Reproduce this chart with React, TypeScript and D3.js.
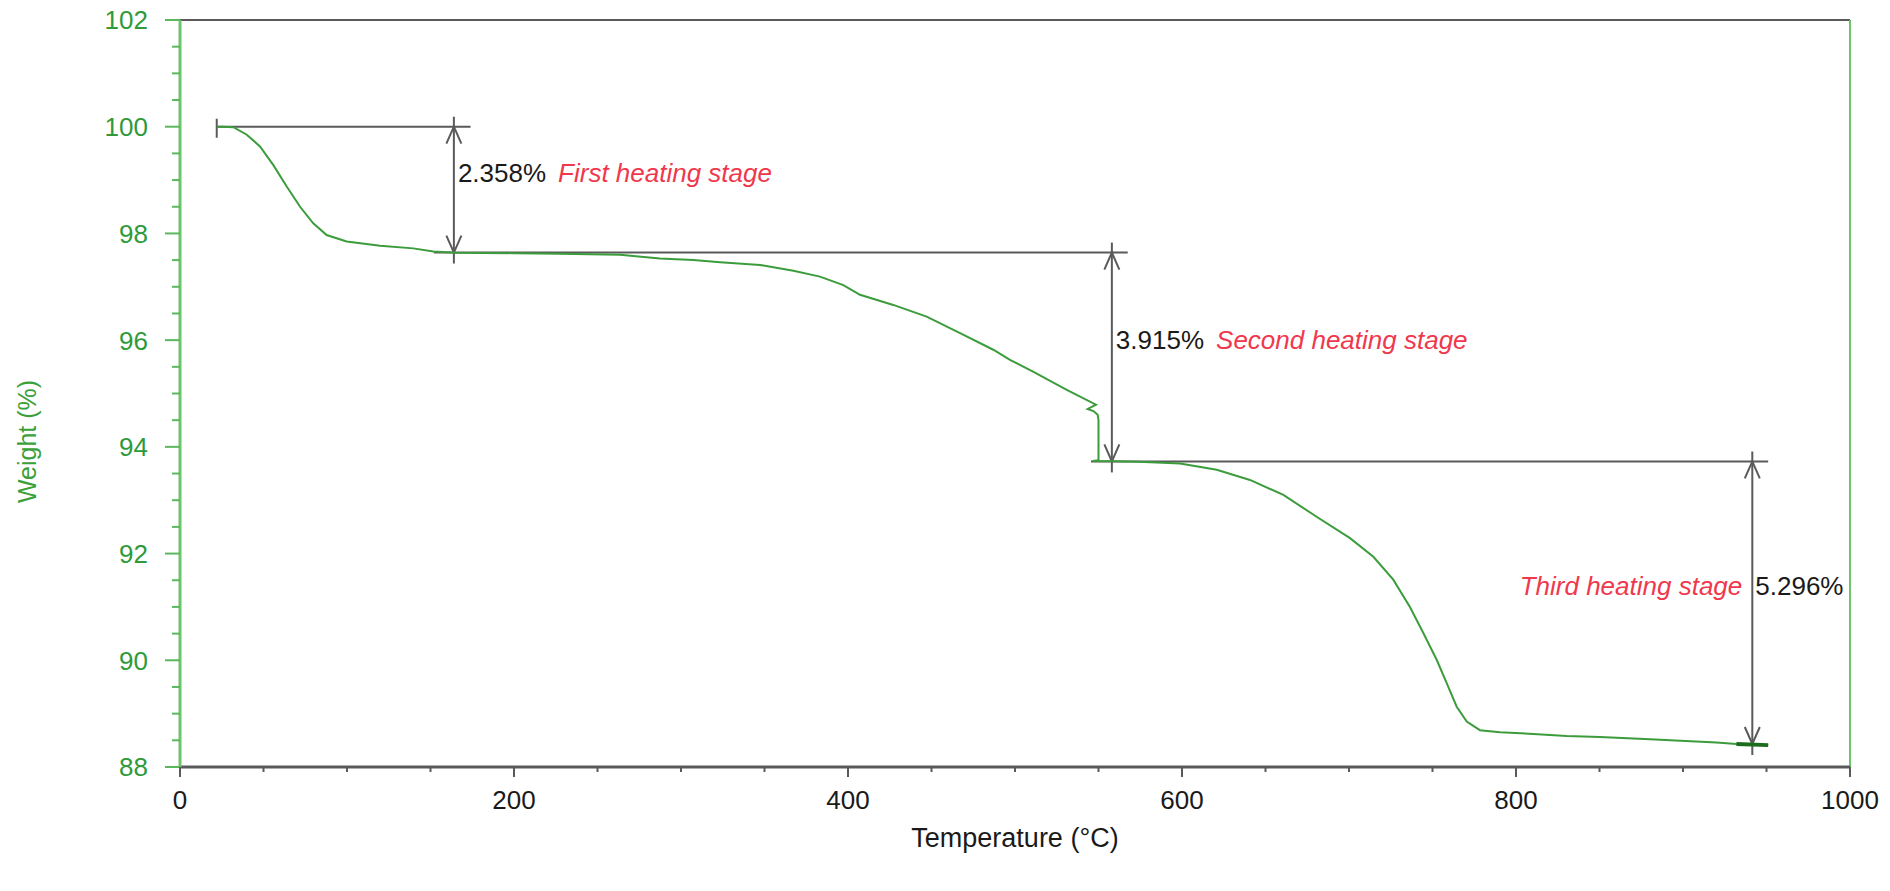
import React from 'react';
import * as d3 from 'd3';

// TGA curve
const temperature = [22, 25.7, 32, 40, 47.9, 55.9, 63.9, 71.9, 79.8, 87.8, 99.8, 119.8, 139.7, 151.7, 165, 200, 227.5, 263.5, 287.4, 307.4, 323.4, 347.3, 367.3, 383.2, 397.2, 407.2, 427.1, 447.1, 467.1, 487, 497, 510.8, 531, 548.5, 543.5, 547, 549.5, 550, 550, 546.5, 560, 573.9, 598.8, 620.8, 640.7, 660.7, 680.6, 700.6, 714.6, 726.5, 736.5, 744.5, 752.5, 758.5, 764.5, 770.5, 778.4, 790.4, 810.4, 830.3, 850.3, 880.2, 920, 932, 951];
const weight = [100.0, 100.0, 99.99, 99.85, 99.63, 99.28, 98.88, 98.5, 98.19, 97.97, 97.85, 97.77, 97.72, 97.66, 97.64, 97.63, 97.62, 97.6, 97.53, 97.5, 97.46, 97.41, 97.3, 97.19, 97.03, 96.85, 96.66, 96.44, 96.13, 95.82, 95.63, 95.41, 95.07, 94.79, 94.71, 94.67, 94.6, 94.5, 93.75, 93.735, 93.73, 93.72, 93.69, 93.57, 93.38, 93.1, 92.69, 92.29, 91.94, 91.51, 91.0, 90.51, 90.01, 89.57, 89.13, 88.85, 88.69, 88.65, 88.62, 88.58, 88.56, 88.52, 88.46, 88.43, 88.41];

// step annotations
const stageNames = ['First heating stage', 'Second heating stage', 'Third heating stage'];
const stageLoss = [2.358, 3.915, 5.296];
const stageTop = [100, 97.642, 93.727];
const arrowTemp = [164, 558, 941.5];
const lineStart = [22, 152, 545.5];
const lineEnd = [174, 567.5, 951];

const xTickLabels = [0, 200, 400, 600, 800, 1000];
const yTickLabels = [88, 90, 92, 94, 96, 98, 100, 102];

const W = 1890, H = 891;
const left = 180, right = 1850, top = 20, bottom = 767;
const font = '"Liberation Sans", Arial, sans-serif';
const gray = '#5a5a5a';
const red = '#f0384c';

const App = () => {
  const x = d3.scaleLinear().domain([0, 1000]).range([left, right]);
  const y = d3.scaleLinear().domain([88, 102]).range([bottom, top]);

  const pts = temperature.map((t, i) => [t, weight[i]]);
  const line = d3.line().x(d => x(d[0])).y(d => y(d[1]));

  const xMinor = d3.range(0, 1001, 50);
  const yMinor = d3.range(88, 102.01, 0.5);

  return <svg width={W} height={H} style={{position: 'absolute', left: 0, top: 0, background: '#fff'}} fontFamily={font}>
    {/* frame */}
    <line x1={left} x2={right} y1={top} y2={top} stroke={gray} strokeWidth={2} />
    <line x1={right} x2={right} y1={top} y2={bottom} stroke="#6cc46c" strokeWidth={2} />
    <line x1={left} x2={right} y1={bottom} y2={bottom} stroke={gray} strokeWidth={3} />
    <line x1={left} x2={left} y1={top} y2={bottom} stroke="#6cc46c" strokeWidth={3} />

    {/* y ticks */}
    {yMinor.map(v => {
      const major = Math.abs(v - Math.round(v)) < 1e-6 && Math.round(v) % 2 === 0;
      return <line key={'ym' + v} x1={left - (major ? 15 : 8)} x2={left} y1={y(v)} y2={y(v)} stroke="#5cb85c" strokeWidth={2} />;
    })}
    {yTickLabels.map(v => (
      <text key={'yl' + v} x={148} y={y(v)} dy="0.36em" textAnchor="end" fontSize={26} fill="#2f9a3a">{v}</text>
    ))}
    <text transform={`translate(36 ${(top + bottom) / 2 + 48}) rotate(-90)`} textAnchor="middle" fontSize={25} fill="#3aa03a">Weight (%)</text>

    {/* x ticks */}
    {xMinor.map(v => (
      <line key={'xm' + v} x1={x(v)} x2={x(v)} y1={bottom} y2={bottom + (v % 200 === 0 ? 10 : 5)} stroke={gray} strokeWidth={2} />
    ))}
    {xTickLabels.map(v => (
      <text key={'xl' + v} x={x(v)} y={809} textAnchor="middle" fontSize={26} fill="#1a1a1a">{v}</text>
    ))}
    <text x={(left + right) / 2} y={847} textAnchor="middle" fontSize={27} fill="#1a1a1a">Temperature (°C)</text>

    {/* stage annotations */}
    {stageNames.map((name, i) => {
      const yTop = y(stageTop[i]);
      const yBot = y(stageTop[i] - stageLoss[i]);
      const ax = x(arrowTemp[i]);
      const midY = (yTop + yBot) / 2 - 8;
      const pct = stageLoss[i].toFixed(3) + '%';
      const last = i === stageNames.length - 1;
      return <g key={name} stroke={gray} strokeWidth={2} fill="none">
        <line x1={x(lineStart[i])} x2={x(lineEnd[i])} y1={yTop} y2={yTop} />
        {i === 0 && <line x1={x(lineStart[i])} x2={x(lineStart[i])} y1={yTop - 8} y2={yTop + 11} />}
        <line x1={ax} x2={ax} y1={yTop - 10} y2={yBot + 11} />
        <path d={`M${ax - 7.5},${yTop + 17}L${ax},${yTop}L${ax + 7.5},${yTop + 17}`} />
        <path d={`M${ax - 7.5},${yBot - 17}L${ax},${yBot}L${ax + 7.5},${yBot - 17}`} />
        {last ? <>
          <text x={ax - 10} y={midY} textAnchor="end" fontSize={26} fontStyle="italic" fill={red} stroke="none">{name}</text>
          <text x={ax + 3} y={midY} fontSize={26} fill="#1a1a1a" stroke="none">{pct}</text>
        </> : <text x={ax + 4} y={midY} fontSize={26} stroke="none">
          <tspan fill="#1a1a1a">{pct}</tspan>
          <tspan dx={12} fill={red} fontStyle="italic">{name}</tspan>
        </text>}
      </g>;
    })}

    {/* curve */}
    <path d={line(pts)} fill="none" stroke="#3c9c3c" strokeWidth={2} />
    <path d={line(pts.slice(-2))} fill="none" stroke="#1d6b1d" strokeWidth={4} />
  </svg>;
};

export default App;
